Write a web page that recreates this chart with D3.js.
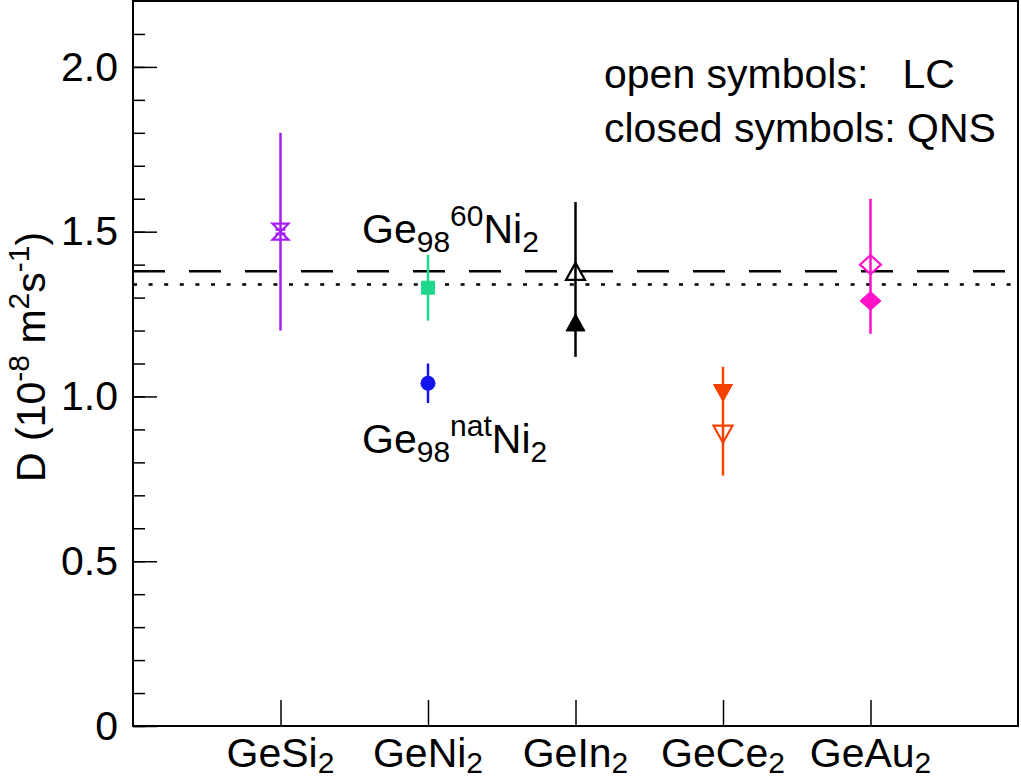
<!DOCTYPE html>
<html>
<head>
<meta charset="utf-8">
<script src="https://cdn.jsdelivr.net/npm/d3@7"></script>
<style>
  body { margin: 0; background: #fff; }
  text { font-family: "Liberation Sans", Arial, sans-serif; }
</style>
</head>
<body>
<div id="chart"></div>
<script>
// categories along x
var categories = ["GeSi", "GeNi", "GeIn", "GeCe", "GeAu"];

// LC (open symbols) values, one per category (null = none)
var lcValues = [1.50, null, 1.375, 0.89, 1.40];
// QNS (closed symbols)
var qnsValues = [null, 1.33, 1.22, 1.015, 1.29];
// extra closed point for Ge98natNi2
var natValue = [null, 1.04, null, null, null];

// error bar ranges [low, high]
var errLow  = [1.20, 1.23, 1.12, 0.76, 1.19];
var errHigh = [1.80, 1.43, 1.59, 1.09, 1.60];
var natLow  = [null, 0.98, null, null, null];
var natHigh = [null, 1.10, null, null, null];

var colors = ["#a51ef5", "#20d88a", "#000000", "#f54200", "#ff12c8"];
var natColor = "#1414f0";
var symbolType = ["hourglass", "square", "triangle", "down", "diamond"];

var dashedRef = 1.38;
var dottedRef = 1.34;

var yMajor = [0, 0.5, 1.0, 1.5, 2.0];
var yMinor = d3.range(0, 22).map(function(i){ return i / 10; });

var width = 1021, height = 780;
var margin = {left: 133, right: 3, top: 1, bottom: 54};
var fs = "41px", fsSmall = "30px";

var svg = d3.select("#chart").append("svg")
  .attr("width", width)
  .attr("height", height);

var x = d3.scaleLinear().domain([0, 6]).range([margin.left, width - margin.right]);
var y = d3.scaleLinear().domain([0, 2.2]).range([height - margin.bottom, margin.top]);

// frame
svg.append("rect")
  .attr("x", x(0)).attr("y", y(2.2))
  .attr("width", x(6) - x(0)).attr("height", y(0) - y(2.2))
  .style("fill", "none").style("stroke", "#000").style("stroke-width", 2);

// y axis minor + major
svg.append("g")
  .attr("transform", "translate(" + x(0) + ",0)")
  .call(d3.axisLeft(y).tickValues(yMinor).tickSize(-12).tickFormat(""))
  .call(function(g){ g.select(".domain").remove(); })
  .selectAll("line").style("stroke-width", 1.5);

var yAx = svg.append("g")
  .attr("transform", "translate(" + x(0) + ",0)")
  .call(d3.axisLeft(y).tickValues(yMajor).tickSize(-24).tickPadding(15)
    .tickFormat(function(d){ return d === 0 ? "0" : d.toFixed(1); }));
yAx.select(".domain").remove();
yAx.selectAll("line").style("stroke-width", 1.5);
yAx.selectAll("text").style("font-size", fs).style("font-family", "Liberation Sans, Arial, sans-serif");

// x axis ticks
var xAx = svg.append("g")
  .attr("transform", "translate(0," + y(0) + ")")
  .call(d3.axisBottom(x).tickValues([1, 2, 3, 4, 5]).tickSize(-26).tickFormat(""));
xAx.select(".domain").remove();
xAx.selectAll("line").style("stroke-width", 1.5);

// x labels with subscript 2
categories.forEach(function(c, i) {
  var t = svg.append("text")
    .attr("x", x(i + 1)).attr("y", y(0) + 41)
    .attr("text-anchor", "middle")
    .style("font-size", fs);
  t.append("tspan").text(c);
  t.append("tspan").attr("dy", 6).style("font-size", fsSmall).text("2");
});

// reference lines
svg.append("line")
  .attr("x1", x(0)).attr("x2", x(6))
  .attr("y1", y(dashedRef)).attr("y2", y(dashedRef))
  .style("stroke", "#000").style("stroke-width", 2.5)
  .style("stroke-dasharray", "32,24");
svg.append("line")
  .attr("x1", x(0)).attr("x2", x(6))
  .attr("y1", y(dottedRef)).attr("y2", y(dottedRef))
  .style("stroke", "#000").style("stroke-width", 2.5)
  .style("stroke-dasharray", "4,11.6");

// error bars
var idx = d3.range(categories.length);
svg.selectAll(".err").data(idx).enter().append("line")
  .attr("x1", function(i){ return x(i + 1); })
  .attr("x2", function(i){ return x(i + 1); })
  .attr("y1", function(i){ return y(errLow[i]); })
  .attr("y2", function(i){ return y(errHigh[i]); })
  .style("stroke", function(i){ return colors[i]; })
  .style("stroke-width", 2.5);

svg.selectAll(".nerr").data(idx.filter(function(i){ return natLow[i] != null; })).enter().append("line")
  .attr("x1", function(i){ return x(i + 1); })
  .attr("x2", function(i){ return x(i + 1); })
  .attr("y1", function(i){ return y(natLow[i]); })
  .attr("y2", function(i){ return y(natHigh[i]); })
  .style("stroke", natColor)
  .style("stroke-width", 2.5);

function shapePath(type) {
  if (type == "square") return "M-6.5,-6.5H6.5V6.5H-6.5Z";
  if (type == "triangle") return "M0,-10L9.5,7H-9.5Z";
  if (type == "down") return "M0,10L9.5,-7H-9.5Z";
  if (type == "diamond") return "M0,-9.5L10.5,0L0,9.5L-10.5,0Z";
  if (type == "hourglass") return "M-8,-8H8L-8,8H8Z M-5,-2H5 M-5,2H5";
  return "";
}

// open symbols (LC)
svg.selectAll(".lc").data(idx.filter(function(i){ return lcValues[i] != null; })).enter().append("path")
  .attr("transform", function(i){ return "translate(" + x(i + 1) + "," + y(lcValues[i]) + ")"; })
  .attr("d", function(i){ return shapePath(symbolType[i]); })
  .style("fill", "#fff")
  .style("stroke", function(i){ return colors[i]; })
  .style("stroke-width", 2.2);

// closed symbols (QNS)
svg.selectAll(".qns").data(idx.filter(function(i){ return qnsValues[i] != null; })).enter().append("path")
  .attr("transform", function(i){ return "translate(" + x(i + 1) + "," + y(qnsValues[i]) + ")"; })
  .attr("d", function(i){ return shapePath(symbolType[i]); })
  .style("fill", function(i){ return colors[i]; })
  .style("stroke", function(i){ return colors[i]; })
  .style("stroke-width", 1);

svg.selectAll(".nat").data(idx.filter(function(i){ return natValue[i] != null; })).enter().append("circle")
  .attr("cx", function(i){ return x(i + 1); })
  .attr("cy", function(i){ return y(natValue[i]); })
  .attr("r", 7.5)
  .style("fill", natColor);

// vertical line through open symbols
svg.selectAll(".thru").data(idx.filter(function(i){ return lcValues[i] != null; })).enter().append("line")
  .attr("x1", function(i){ return x(i + 1); })
  .attr("x2", function(i){ return x(i + 1); })
  .attr("y1", function(i){ return y(lcValues[i]) - 8; })
  .attr("y2", function(i){ return y(lcValues[i]) + 8; })
  .style("stroke", function(i){ return colors[i]; })
  .style("stroke-width", 2.5);

// annotations
function isotope(xp, yp, sup) {
  var t = svg.append("text").attr("x", xp).attr("y", yp).style("font-size", fs);
  t.append("tspan").text("Ge");
  t.append("tspan").attr("dy", 9).style("font-size", fsSmall).text("98");
  t.append("tspan").attr("dy", -26).style("font-size", fsSmall).text(sup);
  t.append("tspan").attr("dy", 17).text("Ni");
  t.append("tspan").attr("dy", 9).style("font-size", fsSmall).text("2");
}
isotope(362, 243, "60");
isotope(362, 453, "nat");

// legend text
svg.append("text").attr("x", 604).attr("y", 88).style("font-size", fs)
  .attr("xml:space", "preserve").text("open symbols:   LC");
svg.append("text").attr("x", 604).attr("y", 142).style("font-size", fs)
  .text("closed symbols: QNS");

// y axis title
var yt = svg.append("text")
  .attr("transform", "translate(45," + y(1.12) + ") rotate(-90)")
  .attr("text-anchor", "middle")
  .style("font-size", fs);
yt.append("tspan").text("D (10");
yt.append("tspan").attr("dy", -16).style("font-size", fsSmall).text("-8");
yt.append("tspan").attr("dy", 16).text(" m");
yt.append("tspan").attr("dy", -16).style("font-size", fsSmall).text("2");
yt.append("tspan").attr("dy", 16).text("s");
yt.append("tspan").attr("dy", -16).style("font-size", fsSmall).text("-1");
yt.append("tspan").attr("dy", 16).text(")");
</script>
</body>
</html>
